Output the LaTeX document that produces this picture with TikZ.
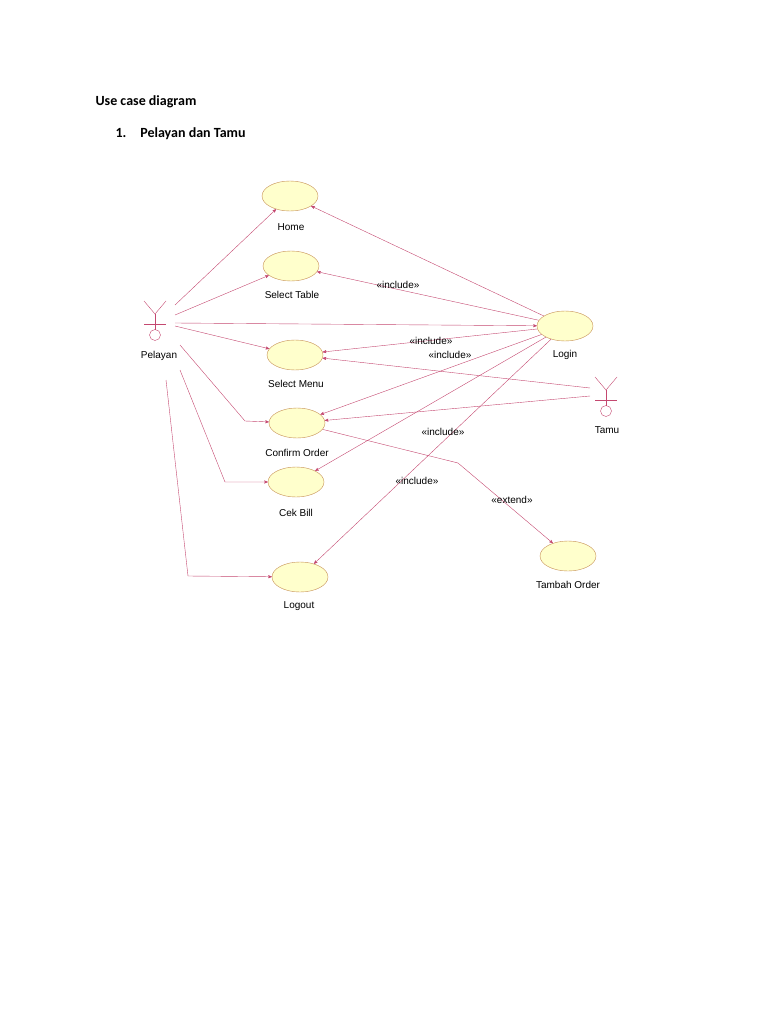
\documentclass[tikz,border=0pt]{standalone}
\usepackage{fontspec}
\setmainfont{Liberation Sans}
\newfontfamily\headfont{Carlito}
\usetikzlibrary{shapes.geometric, arrows, positioning}
\definecolor{umlline}{RGB}{196,72,112}
\definecolor{umlfill}{RGB}{255,255,204}
\definecolor{umledge}{RGB}{196,140,80}
\newcommand{\stickman}[1]{%
  \draw[umlline] ($(#1)+(0,15)$) circle (5.5);
  \draw[umlline] ($(#1)+(0,9.5)$) -- ($(#1)+(0,-6)$);
  \draw[umlline] ($(#1)+(-11,4)$) -- ($(#1)+(11,4)$);
  \draw[umlline] ($(#1)+(-11,-19)$) -- ($(#1)+(0,-6)$) -- ($(#1)+(11,-19)$);}
\usetikzlibrary{calc}
\begin{document}
\begin{tikzpicture}[x=1pt, y=-1pt, uc node/.style={ellipse, draw=umledge, fill=umlfill, minimum width=56pt, minimum height=30pt, inner sep=0pt}, lbl/.style={font=\fontsize{10}{12}\selectfont, inner sep=1pt}, assoc/.style={draw=umlline, -stealth'}]
      \useasboundingbox (0,0) rectangle (768,1024);
      \node[anchor=west, font=\headfont\bfseries\fontsize{14}{16}\selectfont] (title) at (92,102) {Use case diagram};
      \node[anchor=west, font=\headfont\bfseries\fontsize{14}{16}\selectfont] (sub) at (112,134) {1.\hspace{14pt}Pelayan dan Tamu};
      % use cases
      \node[uc node] (home) at (290, 196) {};
      \node[uc node] (table) at (291, 266) {};
      \node[uc node] (login) at (565, 326) {};
      \node[uc node] (menu) at (295, 355) {};
      \node[uc node] (confirm) at (297, 423) {};
      \node[uc node] (bill) at (296, 482) {};
      \node[uc node] (logout) at (300, 577) {};
      \node[uc node] (tambah) at (568, 556) {};
      \node[lbl] at (291, 227) {Home};
      \node[lbl] at (292, 295) {Select Table};
      \node[lbl] at (565, 355) {Login};
      \node[lbl] at (296, 384) {Select Menu};
      \node[lbl] at (297, 453) {Confirm Order};
      \node[lbl] at (296, 513) {Cek Bill};
      \node[lbl] at (299, 606) {Logout};
      \node[lbl] at (568, 585) {Tambah Order};
      % actors
      \coordinate (pelayan) at (155, 320);
      \coordinate (tamu) at (606, 396);
      \stickman{pelayan}
      \stickman{tamu}
      \node[lbl] at (159, 356) {Pelayan};
      \node[lbl] at (607, 430) {Tamu};
      % pelayan
      \draw[assoc] ($(pelayan)+(20,-15)$) -- (home);
      \draw[assoc] ($(pelayan)+(20,-5)$) -- (table);
      \draw[assoc] ($(pelayan)+(20,3)$) -- (login);
      \draw[assoc] ($(pelayan)+(20,6)$) -- (menu);
      \draw[assoc] ($(pelayan)+(25,25)$) -- (245, 421) -- (confirm);
      \draw[assoc] ($(pelayan)+(25,50)$) -- (225, 482) -- (bill);
      \draw[assoc] ($(pelayan)+(11,60)$) -- (188, 576) -- (logout);
      % login
      \draw[assoc] (login) -- (home);
      \draw[assoc] (login) -- (table);
      \draw[assoc] (login) -- (menu);
      \draw[assoc] (login) -- (confirm);
      \draw[assoc] (login) -- (bill);
      \draw[assoc] (login) -- (logout);
      \node[lbl] at (398, 285) {<<include>>};
      \node[lbl] at (431, 341) {<<include>>};
      \node[lbl] at (450, 355) {<<include>>};
      \node[lbl] at (443, 432) {<<include>>};
      \node[lbl] at (417, 481) {<<include>>};
      % tamu
      \draw[assoc] ($(tamu)+(-16,-8)$) -- (menu);
      \draw[assoc] ($(tamu)+(-16,0)$) -- (confirm);
      \draw[assoc] (confirm) -- (458, 463) -- (tambah);
      \node[lbl] at (512, 500) {<<extend>>};
    \end{tikzpicture}
\end{document}
